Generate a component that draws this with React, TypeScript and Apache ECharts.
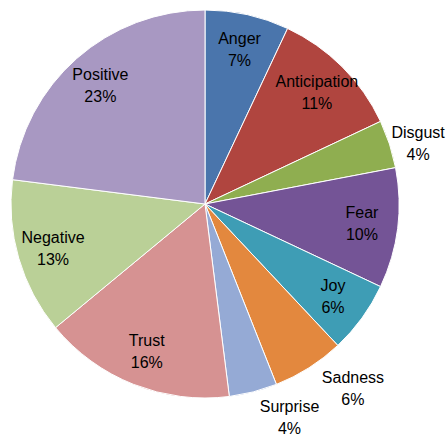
import React, { useEffect, useRef } from "react";
import * as echarts from "echarts";

const categories = ["Anger", "Anticipation", "Disgust", "Fear", "Joy", "Sadness", "Surprise", "Trust", "Negative", "Positive"];
const percentages = [7, 11, 4, 10, 6, 6, 4, 16, 13, 23];
const outsideLabelled = ["Disgust", "Sadness", "Surprise"];
const sliceColors = ["#4A75AC", "#B0453F", "#8FAE50", "#745496", "#3E9DB5", "#E3883E", "#95AAD5", "#D69292", "#BAD097", "#A898C2"];

const FONT = "Liberation Sans";

export default function App() {
  const ref = useRef<HTMLDivElement>(null);
  useEffect(() => {
    if (!ref.current) return;
    const chart = echarts.init(ref.current, null, { renderer: "svg" });
    const R = 194;
    const center = [205, 204];
    const rich = {
      t: { align: "center", fontFamily: FONT, fontSize: 16, lineHeight: 22, color: "#000" },
    };
    const fmt = (p: any) => `{t|${p.name}}\n{t|${p.value}%}`;
    const outsideLen: Record<string, number> = { Disgust: 2, Sadness: 24, Surprise: 26 };
    chart.setOption({
      animation: false,
      series: [
        {
          type: "pie",
          center,
          radius: R,
          startAngle: 90,
          clockwise: true,
          silent: true,
          label: { show: false },
          labelLine: { show: false },
          itemStyle: { borderColor: "#ffffff", borderWidth: 1 },
          data: categories.map((n, i) => ({ name: n, value: percentages[i], itemStyle: { color: sliceColors[i] } })),
        },
        {
          type: "pie",
          center,
          radius: [R * 0.6, R],
          startAngle: 90,
          clockwise: true,
          silent: true,
          avoidLabelOverlap: false,
          labelLayout: { hideOverlap: false },
          itemStyle: { color: "transparent", borderWidth: 0 },
          label: { show: true, position: "inside", formatter: fmt, rich },
          labelLine: { show: false },
          data: categories.map((n, i) => ({
            name: n,
            value: percentages[i],
            label: { show: !outsideLabelled.includes(n) },
          })),
        },
        {
          type: "pie",
          center,
          radius: R,
          startAngle: 90,
          clockwise: true,
          silent: true,
          avoidLabelOverlap: false,
          labelLayout: { hideOverlap: false },
          itemStyle: { color: "transparent", borderWidth: 0 },
          label: { show: true, position: "outside", formatter: fmt, rich, distanceToLabelLine: 0 },
          labelLine: { show: false, length: 10, length2: 0 },
          data: categories.map((n, i) => ({
            name: n,
            value: percentages[i],
            label: { show: outsideLabelled.includes(n) },
            labelLine: { show: false, length: outsideLen[n] ?? 10, length2: 0 },
          })),
        },
      ],
    });
    return () => chart.dispose();
  }, []);
  return (
    <div
      ref={ref}
      style={{ position: "fixed", left: 0, top: 0, width: 448, height: 439, background: "#ffffff" }}
    />
  );
}
